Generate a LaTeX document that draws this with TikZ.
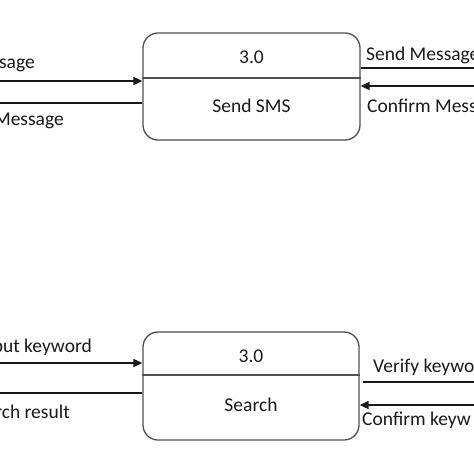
\documentclass[tikz,border=0pt]{standalone}
\usepackage{fontspec}
\setmainfont{Carlito}
\usetikzlibrary{arrows.meta,positioning}
\definecolor{boxgray}{RGB}{80,80,80}
\definecolor{inkdark}{RGB}{25,25,25}

\begin{document}
\begin{tikzpicture}[x=1pt, y=-1pt,
  procbox/.style={draw=boxgray, line width=1.3pt, rounded corners=15pt,
                  minimum width=217pt, minimum height=107pt, inner sep=0pt},
  divider/.style={draw=boxgray, line width=1.8pt},
  lbl/.style={font=\fontsize{19.5}{23}\selectfont, text=inkdark, inner sep=0pt},
  flow/.style={line width=1.8pt, inkdark, -{Triangle[length=9pt,width=8pt]}},
  plain/.style={line width=1.8pt, inkdark}
]
\useasboundingbox (0,0) rectangle (474,474);
\clip (0,0) rectangle (474,474);

% upper process
\node[procbox] (sms) at (251.5,86.5) {};
\draw[divider] ([yshift=8.5pt]sms.west) -- ([yshift=8.5pt]sms.east);
\node[lbl] (smsid) at (251.5,57) {3.0};
\node[lbl] (smsname) at (251.5,106) {Send SMS};

\coordinate (smsInL) at (-5,81);
\coordinate (smsOutL) at (-5,103);
\coordinate (smsOutR) at (480,68);
\coordinate (smsInR) at (480,86);
\draw[flow] (smsInL) -- (sms.west |- smsInL);
\draw[plain] (sms.west |- smsOutL) -- (smsOutL);
\draw[plain] (sms.east |- smsOutR) -- (smsOutR);
\draw[flow] (smsInR) -- (sms.east |- smsInR);

\node[lbl, anchor=east] (smsInLbl) at (35,65) {sage};
\node[lbl, anchor=east] (smsOutLbl) at (64,121) {Message};
\node[lbl, anchor=west] (smsOutRLbl) at (366,55) {Send Message};
\node[lbl, anchor=west] (smsInRLbl) at (367,106) {Confirm Mess};

% lower process
\node[procbox, minimum width=216pt, minimum height=108pt] (srch) at (251,386) {};
\draw[divider] ([yshift=11pt]srch.west) -- ([yshift=11pt]srch.east);
\node[lbl] (srchid) at (251,356) {3.0};
\node[lbl] (srchname) at (251,405) {Search};

\coordinate (srchInL) at (-5,363);
\coordinate (srchOutL) at (-5,393);
\coordinate (srchOutR) at (480,382);
\coordinate (srchInR) at (480,405);
\draw[flow] (srchInL) -- (srch.west |- srchInL);
\draw[plain] (srch.west |- srchOutL) -- (srchOutL);
\draw[plain] ([xshift=3pt]srch.east |- srchOutR) -- (srchOutR);
\draw[flow] (srchInR) -- (srch.east |- srchInR);

\node[lbl, anchor=east] (srchInLbl) at (92,347) {put keyword};
\node[lbl, anchor=east] (srchOutLbl) at (70,412) {rch result};
\node[lbl, anchor=west] (srchOutRLbl) at (373,367) {Verify keywo};
\node[lbl, anchor=west] (srchInRLbl) at (362,420) {Confirm keyw};
\end{tikzpicture}
\end{document}
